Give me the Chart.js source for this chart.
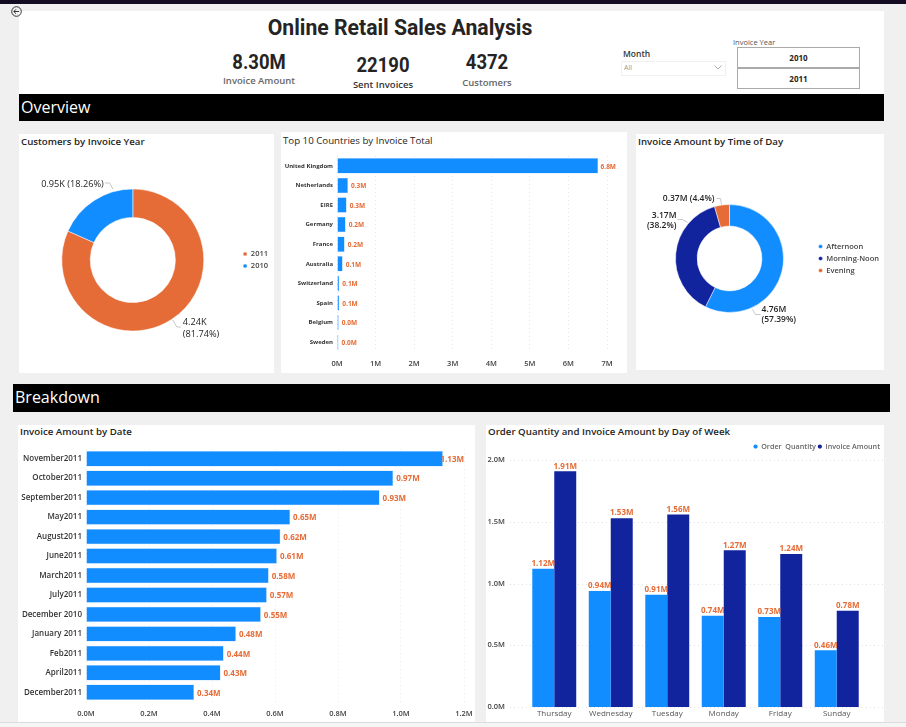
<!DOCTYPE html>
<html>
<head>
<meta charset="utf-8">
<title>Online Retail Sales Analysis</title>
<script src="https://cdn.jsdelivr.net/npm/chart.js@4"></script>
<style>
    html, body { margin: 0; padding: 0; width: 906px; height: 727px; overflow: hidden; background: #f0f0f0; font-family: "Open Sans", sans-serif; color: #252423; }
    .box { position: absolute; background: #fff; }
    .black { position: absolute; background: #000; color: #fff; font-size: 16px; line-height: 27px; }
    .t { position: absolute; white-space: nowrap; }
    .ct { font-size: 9.7px; font-weight: 600; }
    .kpi { font-family: "Roboto", sans-serif; font-weight: 700; font-size: 21px; transform: translateX(-50%) scaleX(0.88); }
    .kpil { font-size: 9.5px; font-weight: 600; color: #666; transform: translateX(-50%); }
    .slicer { position: absolute; left: 737px; width: 121px; height: 19px; border: 1px solid #aaa; background: #fff; text-align: center; font-size: 8px; font-weight: 700; line-height: 19px; }
    canvas { position: absolute; }
</style>
</head>
<body>
<div style="position:absolute;left:0;top:0;width:906px;height:4px;background:#140c22"></div>

<div class="box" style="left:19px;top:11px;width:865px;height:83px"></div>
<svg style="position:absolute;left:11px;top:6px" width="11" height="11" viewBox="0 0 11 11" fill="none" stroke="#222" stroke-width="0.9"><circle cx="5.5" cy="5.5" r="4.8"/><path d="M8.2 5.5H2.9M5 3.3L2.8 5.5L5 7.7"/></svg>
<div class="t" style="left:400px;top:15px;font-family:Roboto,sans-serif;font-size:21.2px;font-weight:700;transform:translateX(-50%)">Online Retail Sales Analysis</div>
<div class="t kpi" style="left:259px;top:50px">8.30M</div>
<div class="t kpil" style="left:259px;top:74px">Invoice Amount</div>
<div class="t kpi" style="left:383px;top:53px">22190</div>
<div class="t kpil" style="left:383px;top:78px;color:#333">Sent Invoices</div>
<div class="t kpi" style="left:487px;top:50px">4372</div>
<div class="t kpil" style="left:487px;top:76px">Customers</div>
<div class="t" style="left:623px;top:48px;font-size:8.5px;font-weight:600;color:#333">Month</div>
<div style="position:absolute;left:621px;top:61px;width:103px;height:13px;border:1px solid #f0f0f0"></div>
<div class="t" style="left:624px;top:63px;font-size:7px;color:#999">All</div>
<svg style="position:absolute;left:714px;top:65px" width="8" height="5" viewBox="0 0 8 5" fill="none" stroke="#888" stroke-width="0.7"><path d="M0.5 0.5L4 4L7.5 0.5"/></svg>
<div class="t" style="left:733px;top:37px;font-size:7.5px;color:#555">Invoice Year</div>
<div class="slicer" style="top:47px">2010</div>
<div class="slicer" style="top:68px">2011</div>

<div class="black" style="left:19px;top:94px;width:865px;height:27px"><span style="margin-left:2px">Overview</span></div>
<div class="black" style="left:13px;top:384px;width:877px;height:28px"><span style="margin-left:2px">Breakdown</span></div>

<div class="box" style="left:19px;top:134px;width:255px;height:239px"></div>
<div class="box" style="left:281px;top:132px;width:346px;height:241px"></div>
<div class="box" style="left:636px;top:134px;width:248px;height:236px"></div>
<div class="box" style="left:18px;top:425px;width:457px;height:297px"></div>
<div class="box" style="left:486px;top:425px;width:398px;height:297px"></div>

<div class="t ct" style="left:21px;top:135px">Customers by Invoice Year</div>
<div class="t ct" style="left:283px;top:134px;font-weight:400">Top 10 Countries by Invoice Total</div>
<div class="t ct" style="left:638px;top:135px">Invoice Amount by Time of Day</div>
<div class="t ct" style="left:20px;top:425px">Invoice Amount by Date</div>
<div class="t ct" style="left:488px;top:425px">Order Quantity and Invoice Amount by Day of Week</div>

<canvas id="yearChart" width="253" height="226" style="left:25px;top:147px"></canvas>
<canvas id="countryChart" width="346" height="241" style="left:281px;top:132px"></canvas>
<canvas id="timeChart" width="248" height="223" style="left:641px;top:147px"></canvas>
<canvas id="dateChart" width="457" height="297" style="left:18px;top:425px"></canvas>
<canvas id="weekChart" width="398" height="297" style="left:486px;top:425px"></canvas>

<div style="position:absolute;left:0;top:722px;width:906px;height:5px;background:#f5f5f5;border-top:1px solid #dcdcdc"></div>

<script>
// Datos
var yearLabels = ['2011', '2010'];
var yearValues = [4.24, 0.95];
var yearText = [['4.24K', '(81.74%)'], ['0.95K (18.26%)']];

var countryLabels = ['United Kingdom', 'Netherlands', 'EIRE', 'Germany', 'France', 'Australia', 'Switzerland', 'Spain', 'Belgium', 'Sweden'];
var countryValues = [6.77, 0.285, 0.25, 0.224, 0.198, 0.147, 0.06, 0.06, 0.045, 0.04];
var countryText = ['6.8M', '0.3M', '0.3M', '0.2M', '0.2M', '0.1M', '0.1M', '0.1M', '0.0M', '0.0M'];
var countryTicks = ['0M', '1M', '2M', '3M', '4M', '5M', '6M', '7M'];

var timeLabels = ['Afternoon', 'Morning-Noon', 'Evening'];
var timeValues = [4.76, 3.17, 0.37];
var timeText = [['4.76M', '(57.39%)'], ['3.17M', '(38.2%)'], ['0.37M (4.4%)']];

var dateLabels = ['November2011', 'October2011', 'September2011', 'May2011', 'August2011', 'June2011', 'March2011', 'July2011', 'December 2010', 'January 2011', 'Feb2011', 'April2011', 'December2011'];
var dateValues = [1.133, 0.975, 0.932, 0.648, 0.617, 0.606, 0.58, 0.574, 0.555, 0.476, 0.437, 0.427, 0.343];
var dateText = ['1.13M', '0.97M', '0.93M', '0.65M', '0.62M', '0.61M', '0.58M', '0.57M', '0.55M', '0.48M', '0.44M', '0.43M', '0.34M'];
var dateTicks = ['0.0M', '0.2M', '0.4M', '0.6M', '0.8M', '1.0M', '1.2M'];

var dayLabels = ['Thursday', 'Wednesday', 'Tuesday', 'Monday', 'Friday', 'Sunday'];
var quantityValues = [1.12, 0.94, 0.91, 0.74, 0.73, 0.46];
var amountValues = [1.91, 1.53, 1.56, 1.27, 1.24, 0.78];
var weekTicks = ['0.0M', '0.5M', '1.0M', '1.5M', '2.0M'];

var BLUE = '#118DFF', NAVY = '#12239E', ORANGE = '#E66C37';
var FONT = '"Open Sans", sans-serif';

Chart.defaults.animation = false;
Chart.defaults.responsive = false;
Chart.defaults.font.family = FONT;
Chart.defaults.plugins.tooltip.enabled = false;

// Fija el tamano de un eje y quita el margen que Chart.js le anade
function fixAxis(size) {
    return function(s) {
        if (s.isHorizontal()) s.height = size; else s.width = size;
        s.paddingLeft = s.paddingRight = s.paddingTop = s.paddingBottom = 0;
    };
}

// Etiquetas naranjas junto a las barras
var barLabels = {
    id: 'barLabels',
    afterDatasetsDraw: function(chart, args, opts) {
        var ctx = chart.ctx;
        ctx.save();
        ctx.fillStyle = ORANGE;
        ctx.font = '700 ' + opts.size + 'px ' + FONT;
        chart.data.datasets.forEach(function(ds, d) {
            chart.getDatasetMeta(d).data.forEach(function(bar, i) {
                var txt = opts.text ? opts.text[i] : ds.data[i].toFixed(2) + 'M';
                if (opts.vertical) {
                    ctx.textAlign = 'center';
                    ctx.textBaseline = 'bottom';
                    ctx.fillText(txt, bar.x, bar.y - 1);
                } else {
                    // si no cabe a la derecha se pega al borde del panel
                    var x = Math.min(bar.x + opts.gap, chart.width - 11 - ctx.measureText(txt).width);
                    ctx.textAlign = 'left';
                    ctx.textBaseline = 'middle';
                    ctx.fillText(txt, x, bar.y + 1);
                }
            });
        });
        ctx.restore();
    }
};

// Etiquetas de las donas con su linea guia
var donutLabels = {
    id: 'donutLabels',
    afterDatasetsDraw: function(chart, args, opts) {
        var ctx = chart.ctx;
        var arc = chart.getDatasetMeta(0).data[0];
        ctx.save();
        ctx.font = opts.weight + ' ' + opts.size + 'px ' + FONT;
        ctx.textBaseline = 'middle';
        opts.items.forEach(function(item, i) {
            ctx.strokeStyle = '#c8c8c8';
            ctx.lineWidth = 1;
            ctx.beginPath();
            item.line.forEach(function(p, k) {
                if (k === 0) ctx.moveTo(arc.x + p[0], arc.y + p[1]);
                else ctx.lineTo(arc.x + p[0], arc.y + p[1]);
            });
            ctx.stroke();
            ctx.fillStyle = '#252423';
            ctx.textAlign = item.align || 'left';
            opts.text[i].forEach(function(line, k) {
                ctx.fillText(line, arc.x + item.x, arc.y + item.y + k * opts.lead);
            });
        });
        ctx.restore();
    }
};

function donut(id, labels, values, colors, radius, left, labelOpts) {
    return new Chart(document.getElementById(id), {
        type: 'doughnut',
        data: { labels: labels, datasets: [{ data: values, backgroundColor: colors, borderWidth: 0.5, borderColor: '#fff', radius: radius, cutout: '60%' }] },
        options: {
            layout: { padding: { left: left } },
            plugins: {
                legend: {
                    position: 'right',
                    labels: { usePointStyle: true, pointStyle: 'circle', boxWidth: 4, boxHeight: 3, padding: 4.5, color: '#444', font: { size: 7.5, weight: 600 } }
                },
                donutLabels: labelOpts
            }
        },
        plugins: [donutLabels]
    });
}

donut('yearChart', yearLabels, yearValues, [ORANGE, BLUE], 71, 2, {
    size: 9.2, weight: 500, lead: 12, text: yearText,
    items: [
        { x: 50, y: 62, line: [[40, 60], [44, 67], [48, 67]] },
        { x: -29, y: -76, align: 'right', line: [[-20, -71], [-23, -77], [-28, -77]] }
    ]
});

var countryChart = new Chart(document.getElementById('countryChart'), {
    type: 'bar',
    data: { labels: countryLabels, datasets: [{ data: countryValues, backgroundColor: BLUE, borderColor: '#9fd0ff', borderWidth: 0.5, barPercentage: 0.79, categoryPercentage: 1 }] },
    options: {
        indexAxis: 'y',
        layout: { padding: { top: 24, right: 20 } },
        scales: {
            x: {
                min: 0, max: 7, afterFit: fixAxis(21),
                ticks: { stepSize: 1, padding: 7, color: '#444', font: { size: 7.5, weight: 600 }, callback: function(v, i) { return countryTicks[i]; } },
                grid: { color: '#e6e6e6', drawTicks: false }, border: { display: false, dash: [1, 3] }
            },
            y: {
                afterFit: fixAxis(56),
                ticks: { padding: 4, color: '#333', autoSkip: false, font: { size: 6, weight: 700 } },
                grid: { display: false, drawTicks: false }, border: { display: false }
            }
        },
        plugins: { legend: { display: false }, barLabels: { size: 6.5, gap: 3, text: countryText } }
    },
    plugins: [barLabels]
});

donut('timeChart', timeLabels, timeValues, [BLUE, NAVY, ORANGE], 54, 4, {
    size: 8.5, weight: 600, lead: 10.5, text: timeText,
    items: [
        { x: 32, y: 51, line: [[23, 51], [26, 56], [31, 56]] },
        { x: -53, y: -43, align: 'right', line: [[-42, -36], [-47, -39], [-52, -39]] },
        { x: -15, y: -60, align: 'right', line: [[-8, -54], [-9, -60], [-13, -60]] }
    ]
});

var dateChart = new Chart(document.getElementById('dateChart'), {
    type: 'bar',
    data: { labels: dateLabels, datasets: [{ data: dateValues, backgroundColor: BLUE, borderColor: '#9fd0ff', borderWidth: 0.5, barPercentage: 0.79, categoryPercentage: 1 }] },
    options: {
        indexAxis: 'y',
        layout: { padding: { top: 24, right: 11 } },
        scales: {
            x: {
                min: 0, max: 1.2, afterFit: fixAxis(20),
                ticks: { stepSize: 0.2, padding: 7, color: '#444', font: { size: 7.5, weight: 600 }, callback: function(v, i) { return dateTicks[i]; } },
                grid: { color: '#ececec', drawTicks: false }, border: { display: false, dash: [1, 3] }
            },
            y: {
                afterFit: fixAxis(68),
                ticks: { padding: 4, color: '#333', autoSkip: false, font: { size: 8, weight: 600 } },
                grid: { display: false, drawTicks: false }, border: { display: false }
            }
        },
        plugins: { legend: { display: false }, barLabels: { size: 8, gap: 3, text: dateText } }
    },
    plugins: [barLabels]
});

// Lineas de rejilla que llegan a todo el ancho del panel
var wideGrid = {
    id: 'wideGrid',
    beforeDatasetsDraw: function(chart) {
        var ctx = chart.ctx, y = chart.scales.y;
        ctx.save();
        ctx.strokeStyle = '#e2e2e2';
        ctx.setLineDash([1, 3]);
        y.ticks.forEach(function(t, i) {
            var py = Math.round(y.getPixelForTick(i)) + 0.5;
            ctx.beginPath();
            ctx.moveTo(24, py);
            ctx.lineTo(chart.width - 1, py);
            ctx.stroke();
        });
        ctx.restore();
    }
};

var weekChart = new Chart(document.getElementById('weekChart'), {
    type: 'bar',
    data: {
        labels: dayLabels,
        datasets: [
            { label: 'Order  Quantity', data: quantityValues, backgroundColor: BLUE, categoryPercentage: 0.778, barPercentage: 1 },
            { label: 'Invoice Amount', data: amountValues, backgroundColor: NAVY, categoryPercentage: 0.778, barPercentage: 1 }
        ]
    },
    options: {
        layout: { padding: { top: 16, right: 2 } },
        scales: {
            x: {
                afterFit: fixAxis(15),
                ticks: { padding: 2, color: '#555', font: { size: 8 } },
                grid: { display: false, drawTicks: false }, border: { display: false }
            },
            y: {
                min: 0, max: 2, afterFit: fixAxis(40),
                ticks: { stepSize: 0.5, padding: 21, color: '#444', font: { size: 7.5, weight: 600 }, callback: function(v, i) { return weekTicks[i]; } },
                grid: { display: false, drawTicks: false }, border: { display: false }
            },
            // eje vacio a la derecha: deja aire tras la ultima barra sin mover la leyenda
            spacer: {
                position: 'right', afterFit: fixAxis(17),
                ticks: { display: false }, grid: { display: false, drawTicks: false }, border: { display: false }
            }
        },
        plugins: {
            legend: {
                position: 'top', align: 'end',
                labels: { usePointStyle: true, pointStyle: 'circle', boxWidth: 4, boxHeight: 3, padding: 2, color: '#666', font: { size: 7.2, weight: 600 } }
            },
            barLabels: { size: 8, vertical: true }
        }
    },
    plugins: [barLabels, wideGrid]
});
</script>
</body>
</html>
